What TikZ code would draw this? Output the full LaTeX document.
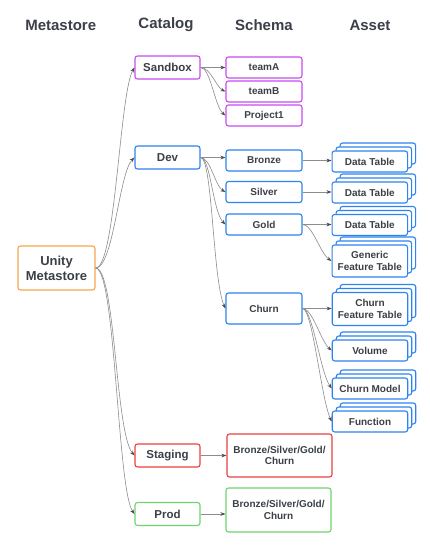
\documentclass[tikz,border=0pt]{standalone}
\usepackage{fontspec}
\setmainfont{Liberation Sans}
\usetikzlibrary{arrows.meta,shadows}
\definecolor{txt}{HTML}{3B4048}
\definecolor{purp}{HTML}{C84BF2}
\definecolor{blu}{HTML}{2D84F0}
\definecolor{redc}{HTML}{E8413E}
\definecolor{grn}{HTML}{6ED46E}
\definecolor{orng}{HTML}{F8A64C}
\definecolor{lineg}{HTML}{8C8C8C}
\definecolor{tipc}{HTML}{4A4A4A}
\begin{document}
\begin{tikzpicture}[x=1pt,y=-1pt,
  box/.style={draw, rounded corners=2.5pt, line width=1.1pt, fill=white, text=txt,
    font=\bfseries\fontsize{10}{11.7}\selectfont, align=center, inner sep=0pt},
  cat/.style={box, font=\bfseries\fontsize{11.5}{13}\selectfont, minimum width=65pt, minimum height=23pt},
  sch/.style={box, draw=blu, minimum width=76pt, minimum height=21pt},
  asset/.style={box, draw=blu, minimum width=75.5pt, minimum height=21pt,
    copy shadow={shadow xshift=8pt, shadow yshift=8pt},
    copy shadow={shadow xshift=4pt, shadow yshift=4pt}},
  hdr/.style={text=txt, font=\bfseries\fontsize{15}{18}\selectfont},
  conn/.style={draw=lineg, line width=0.6pt, -{Stealth[length=5pt,width=3.6pt,color=tipc]}}
]
\fill[white] (0,0) rectangle (430,547);
\useasboundingbox (0,0) rectangle (430,547);

% headers
\node[hdr] (h1) at (60.7,25) {Metastore};
\node[hdr] (h2) at (166,25) {Catalog};
\node[hdr] (h3) at (264,25) {Schema};
\node[hdr] (h4) at (370,25) {Asset};

% metastore
\node[box, draw=orng, font=\bfseries\fontsize{13}{15.3}\selectfont, minimum width=77pt, minimum height=44pt] (unity) at (56.5,268) {Unity\\Metastore};

% catalogs
\node[cat, draw=purp] (sandbox) at (167.5,67.5) {Sandbox};
\node[cat, draw=blu] (dev) at (167.5,157.5) {Dev};
\node[cat, draw=redc] (staging) at (167.5,455.5) {Staging};
\node[cat, draw=grn] (prod) at (167.5,514) {Prod};

% schemas
\node[sch, draw=purp] (teamA) at (264,67.5) {teamA};
\node[sch, draw=purp] (teamB) at (264,91.5) {teamB};
\node[sch, draw=purp] (proj) at (264,115.5) {Project1};
\node[sch] (bronze) at (264,160.5) {Bronze};
\node[sch] (silver) at (264,192) {Silver};
\node[sch] (gold) at (264,224.5) {Gold};
\node[sch, minimum height=31pt] (churn) at (264,308.5) {Churn};
\node[box, draw=redc, minimum width=105pt, minimum height=43pt] (stgs) at (279.5,455.5) {Bronze/Silver/Gold/\\Churn};
\node[box, draw=grn, minimum width=105pt, minimum height=44pt] (prods) at (278.5,510) {Bronze/Silver/Gold/\\Churn};

% assets
\node[asset] (dt1) at (369.8,161.5) {Data Table};
\node[asset] (dt2) at (369.8,192.5) {Data Table};
\node[asset] (dt3) at (369.8,225) {Data Table};
\node[asset, minimum height=32pt] (gft) at (369.8,261) {Generic\\Feature Table};
\node[asset, minimum height=33pt] (cft) at (370,309) {Churn\\Feature Table};
\node[asset] (vol) at (370,350.5) {Volume};
\node[asset] (cm) at (370,388.5) {Churn Model};
\node[asset] (fn) at (370,421.5) {Function};

% connectors: metastore -> catalogs
\draw[conn] (unity.east) to[out=0,in=240,out distance=20pt,in distance=30pt] (sandbox.west);
\draw[conn] (unity.east) to[out=0,in=225,out distance=18pt,in distance=22pt] (dev.west);
\draw[conn] (unity.east) to[out=0,in=130,out distance=20pt,in distance=30pt] (staging.west);
\draw[conn] (unity.east) to[out=0,in=125,out distance=20pt,in distance=30pt] (prod.west);

% catalog -> schema
\draw[conn] (sandbox.east) -- (sandbox.east -| teamA.west);
\draw[conn] (sandbox.east) to[out=0,in=155,out distance=10pt,in distance=10pt] (teamB.west);
\draw[conn] (sandbox.east) to[out=0,in=140,out distance=10pt,in distance=14pt] (proj.west);
\draw[conn] (dev.east) -- (dev.east -| bronze.west);
\draw[conn] (dev.east) to[out=0,in=150,out distance=10pt,in distance=12pt] (silver.west);
\draw[conn] (dev.east) to[out=0,in=135,out distance=10pt,in distance=18pt] (gold.west);
\draw[conn] (dev.east) to[out=0,in=115,out distance=12pt,in distance=30pt] (churn.west);
\draw[conn] (staging.east) -- (staging.east -| stgs.west);
\draw[conn] (prod.east) -- (prod.east -| prods.west);

% schema -> asset
\draw[conn] (bronze.east) -- (bronze.east -| dt1.west);
\draw[conn] (silver.east) -- (silver.east -| dt2.west);
\draw[conn] (gold.east) -- (gold.east -| dt3.west);
\draw[conn] (gold.east) to[out=0,in=145,out distance=10pt,in distance=14pt] (gft.west);
\draw[conn] (churn.east) -- (churn.east -| cft.west);
\draw[conn] (churn.east) to[out=0,in=140,out distance=10pt,in distance=14pt] (vol.west);
\draw[conn] (churn.east) to[out=0,in=125,out distance=10pt,in distance=20pt] (cm.west);
\draw[conn] (churn.east) to[out=0,in=115,out distance=10pt,in distance=25pt] (fn.west);
\end{tikzpicture}
\end{document}
